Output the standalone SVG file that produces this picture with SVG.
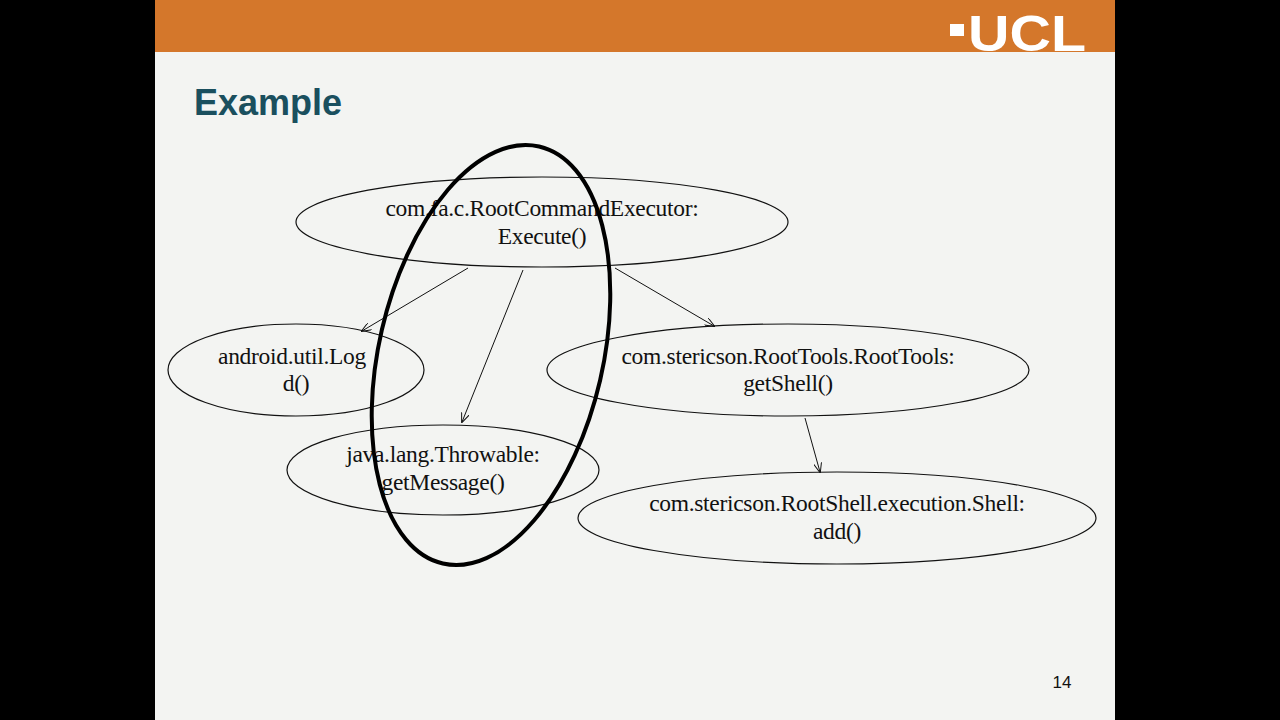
<svg xmlns="http://www.w3.org/2000/svg" width="1280" height="720" viewBox="0 0 1280 720">
<defs>
<marker id="ah" markerWidth="10" markerHeight="8" refX="9" refY="4" orient="auto" markerUnits="userSpaceOnUse"><path d="M0,0 L10,4 L0,8" fill="none" stroke="#111" stroke-width="1"/></marker>
<style>
.n{fill:none;stroke:#111;stroke-width:1.2}
.t{font-family:"Liberation Serif",serif;font-size:23.5px;fill:#111;text-anchor:middle;letter-spacing:-0.3px}
.c{stroke:#111;stroke-width:1;fill:none;marker-end:url(#ah)}
</style>
</defs>
<rect width="1280" height="720" fill="#000"/>
<rect x="155" y="0" width="960" height="720" fill="#f3f4f2"/>
<rect x="155" y="0" width="960" height="52" fill="#d4772b"/>
<text x="1086" y="51" font-family="Liberation Sans,sans-serif" font-weight="bold" font-size="50" fill="#fff" text-anchor="end" textLength="118" lengthAdjust="spacingAndGlyphs">UCL</text>
<rect x="950" y="24" width="14" height="12" fill="#fff"/>
<text x="194" y="115" font-family="Liberation Sans,sans-serif" font-weight="bold" font-size="36" fill="#1a4f5e">Example</text>
<text x="1062" y="688" font-family="Liberation Sans,sans-serif" font-size="17" fill="#111" text-anchor="middle">14</text>
<g id="connectors">
<line class="c" x1="468" y1="268" x2="362" y2="331"/>
<line class="c" x1="523" y1="270" x2="462" y2="422"/>
<line class="c" x1="615" y1="268" x2="714" y2="326"/>
<line class="c" x1="805" y1="418" x2="820" y2="472"/>
</g>
<g id="n1"><ellipse class="n" cx="542" cy="222" rx="246" ry="45"/><text class="t" x="542" y="216">com.fa.c.RootCommandExecutor:</text><text class="t" x="542" y="244">Execute()</text></g>
<g id="n2"><ellipse class="n" cx="296" cy="370" rx="128" ry="46"/><text class="t" x="292" y="364">android.util.Log</text><text class="t" x="296" y="391">d()</text></g>
<g id="n3"><ellipse class="n" cx="788" cy="370" rx="241" ry="46"/><text class="t" x="788" y="364">com.stericson.RootTools.RootTools:</text><text class="t" x="788" y="391">getShell()</text></g>
<g id="n4"><ellipse class="n" cx="443" cy="470" rx="156" ry="45"/><text class="t" x="443" y="462">java.lang.Throwable:</text><text class="t" x="443" y="490">getMessage()</text></g>
<g id="n5"><ellipse class="n" cx="837" cy="518" rx="259" ry="46"/><text class="t" x="837" y="511">com.stericson.RootShell.execution.Shell:</text><text class="t" x="837" y="539">add()</text></g>
<g id="highlight"><ellipse cx="491" cy="355" rx="112" ry="214" transform="rotate(13 491 355)" fill="none" stroke="#000" stroke-width="4"/></g>
</svg>
